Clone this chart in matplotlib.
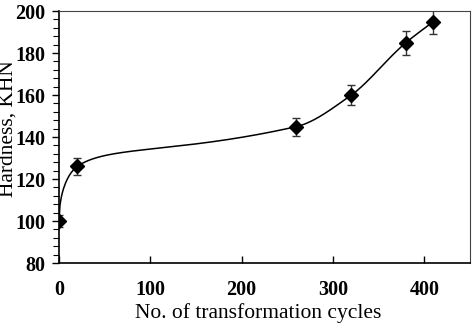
import matplotlib

matplotlib.use("Agg")

import numpy as np
import matplotlib.pyplot as plt
from matplotlib.ticker import MultipleLocator

cycles = [0, 20, 260, 320, 380, 410]
hardness = [100, 126, 145, 160, 185, 195]
err = [3, 4, 4.3, 4.8, 5.7, 6]


def _pchip(x, y, xn):
    # monotone cubic hermite interpolation
    x = np.asarray(x, float)
    y = np.asarray(y, float)
    h = np.diff(x)
    d = np.diff(y) / h
    m = np.zeros_like(y)
    for k in range(1, len(x) - 1):
        if d[k - 1] * d[k] > 0:
            w1 = 2 * h[k] + h[k - 1]
            w2 = h[k] + 2 * h[k - 1]
            m[k] = (w1 + w2) / (w1 / d[k - 1] + w2 / d[k])
    m[0] = d[0]
    m[-1] = d[-1]
    idx = np.clip(np.searchsorted(x, xn) - 1, 0, len(h) - 1)
    t = (xn - x[idx]) / h[idx]
    h00 = 2 * t**3 - 3 * t**2 + 1
    h10 = t**3 - 2 * t**2 + t
    h01 = -2 * t**3 + 3 * t**2
    h11 = t**3 - t**2
    return h00 * y[idx] + h10 * h[idx] * m[idx] + h01 * y[idx + 1] + h11 * h[idx] * m[idx + 1]


plt.rcParams["font.family"] = ["Liberation Serif", "DejaVu Serif"]

fig = plt.figure(figsize=(4.74, 3.26), dpi=100)
ax = fig.add_axes([0.1245, 0.193, 0.867, 0.773])

# smooth curve through the points, drawn on a compressed x scale
p = 0.45
xs = np.linspace(0, max(cycles), 400)
ys = _pchip(np.power(cycles, p), hardness, np.power(xs, p))
ax.plot(xs, ys, color="black", linewidth=1.1)

ax.errorbar(cycles, hardness, yerr=err, fmt="D", color="black", markersize=7,
            ecolor="#333333", elinewidth=1.0, capsize=3, capthick=1.0)

ax.set_xlim(0, 450)
ax.set_ylim(80, 200)
ax.xaxis.set_major_locator(MultipleLocator(100))
ax.yaxis.set_major_locator(MultipleLocator(20))
ax.yaxis.set_minor_locator(MultipleLocator(4))
ax.tick_params(axis="x", which="major", direction="in", length=5, width=1, pad=12,
               labelsize=14.5)
ax.tick_params(axis="y", which="major", direction="out", length=5, width=1, pad=5,
               labelsize=14.5)
ax.tick_params(axis="y", which="minor", direction="out", length=4, width=0.8)
for lab in ax.get_xticklabels() + ax.get_yticklabels():
    lab.set_fontweight("bold")

for s in ["left", "bottom"]:
    ax.spines[s].set_linewidth(1.2)
for s in ["top", "right"]:
    ax.spines[s].set_linewidth(0.8)
    ax.spines[s].set_color("#444444")

ax.set_xlabel("No. of transformation cycles", fontsize=15.5, labelpad=0)
ax.xaxis.set_label_coords(0.485, -0.16)
ax.set_ylabel("Hardness, KHN", fontsize=15.5, labelpad=0)
ax.yaxis.set_label_coords(-0.1, 0.535)

fig.savefig("out.png", dpi=100, facecolor="white")
